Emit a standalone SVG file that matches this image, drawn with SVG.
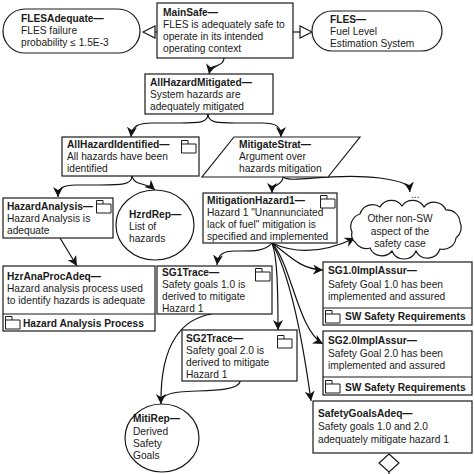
<svg xmlns="http://www.w3.org/2000/svg" width="474" height="474" viewBox="0 0 474 474">
<style>
.box{fill:#fff;stroke:#1a1a1a;stroke-width:1.2}
.ln{fill:none;stroke:#1a1a1a;stroke-width:1.2}
.t{font-family:"Liberation Sans",Arial,Helvetica,sans-serif;font-size:10.2px;fill:#1a1a1a}
.b{font-weight:bold}
.c{fill:none;stroke:#111;stroke-width:1.2;marker-end:url(#ah)}
.fold{fill:#fff;stroke:#1a1a1a;stroke-width:1}
</style>
<defs>
<marker id="ah" markerUnits="userSpaceOnUse" markerWidth="10" markerHeight="10" viewBox="0 0 10 10" refX="10" refY="5" orient="auto">
<path d="M0,0 L10,5 L0,10 L3,5 z" fill="#111"/>
</marker>
<g id="folder"><path class="fold" d="M0.5,4 V0.5 H7 V4 M0.5,4 H15 V13 H0.5 Z"/></g>
</defs>

<g id="connectors">
<line class="ln" x1="157" y1="32" x2="155" y2="32"/>
<polygon class="box" points="143,32 155,26 155,38"/>
<line class="ln" x1="293" y1="32" x2="300" y2="32"/>
<polygon class="box" points="312,32 300,26 300,38"/>
<path class="c" d="M224,58 C224,67 211,64 209,74"/>
<path class="c" d="M208,114 C208,123 198,123 180,123 L152,123 C138,123 132,126 131,137"/>
<path class="c" d="M208,114 C208,123 218,123 236,123 L262,123 C276,123 281,126 281,137"/>
<path class="c" d="M132,176 C132,185 120,185 100,185 L76,185 C63,185 58,188 58,197"/>
<path class="c" d="M132,176 C134,186 146,182 155,190"/>
<path class="c" d="M60,238 L77,266"/>
<path class="c" d="M283,177 C283,186 272,183 272,193"/>
<path class="c" d="M283,177 C292,184 330,172 380,178 C400,181 409,183 410,192"/>
<path class="c" d="M272,243 C265,252 250,251 235,251 C222,251 218,255 217,265"/>
<path class="c" d="M272,243 C300,256 330,250 355,238"/>
<path class="c" d="M272,243 C290,256 300,269 323,270"/>
<path class="c" d="M272,243 C277,256 278,285 278,330"/>
<path class="c" d="M272,243 C292,266 298,330 323,344"/>
<path class="c" d="M272,243 C290,275 302,335 311,401"/>
<path class="c" d="M212,314 C185,318 160,340 161,404"/>
<path class="ln" d="M240,381 C240,392 200,390 180,392 C168,393 162,396 161,402"/>
</g>

<g id="FLESAdequate">
<rect class="box" x="3" y="9" width="137" height="44" rx="22"/>
<text class="t b" x="21" y="22">FLESAdequate—</text>
<text class="t" x="21" y="34">FLES failure</text>
<text class="t" x="21" y="46">probability ≤ 1.5E-3</text>
</g>

<g id="MainSafe">
<rect class="box" x="157" y="3" width="136" height="55"/>
<text class="t b" x="163" y="16">MainSafe—</text>
<text class="t" x="163" y="28">FLES is adequately safe to</text>
<text class="t" x="163" y="40">operate in its intended</text>
<text class="t" x="163" y="52">operating context</text>
</g>

<g id="FLES">
<rect class="box" x="312" y="11" width="130" height="40" rx="20"/>
<text class="t b" x="330" y="23">FLES—</text>
<text class="t" x="330" y="35">Fuel Level</text>
<text class="t" x="330" y="47">Estimation System</text>
</g>

<g id="AllHazardMitigated">
<rect class="box" x="145" y="74" width="128" height="40"/>
<text class="t b" x="150" y="86">AllHazardMitigated—</text>
<text class="t" x="150" y="98">System hazards are</text>
<text class="t" x="150" y="110">adequately mitigated</text>
</g>

<g id="AllHazardIdentified">
<rect class="box" x="62" y="137" width="137" height="39"/>
<use href="#folder" x="181" y="140"/>
<text class="t b" x="67" y="148">AllHazardIdentified—</text>
<text class="t" x="67" y="160">All hazards have been</text>
<text class="t" x="67" y="172">identified</text>
</g>

<g id="MitigateStrat">
<polygon class="box" points="234,137 360,137 328,177 202,177"/>
<text class="t b" x="239" y="148">MitigateStrat—</text>
<text class="t" x="239" y="160">Argument over</text>
<text class="t" x="239" y="172">hazards mitigation</text>
</g>

<g id="HazardAnalysis">
<rect class="box" x="3" y="198" width="110" height="40"/>
<use href="#folder" x="96" y="200"/>
<text class="t b" x="7" y="210">HazardAnalysis—</text>
<text class="t" x="7" y="222">Hazard Analysis is</text>
<text class="t" x="7" y="234">adequate</text>
</g>

<g id="HzrdRep">
<ellipse class="box" cx="155" cy="225" rx="39" ry="35"/>
<text class="t b" x="129" y="218">HzrdRep—</text>
<text class="t" x="129" y="230">List of</text>
<text class="t" x="129" y="242">hazards</text>
</g>

<g id="MitigationHazard1">
<rect class="box" x="203" y="193" width="134" height="50"/>
<use href="#folder" x="320" y="195"/>
<text class="t b" x="207" y="204">MitigationHazard1—</text>
<text class="t" x="207" y="216">Hazard 1 "Unannunciated</text>
<text class="t" x="207" y="228">lack of fuel" mitigation is</text>
<text class="t" x="207" y="240">specified and implemented</text>
</g>

<g id="more">
<text class="t" x="411" y="198">...</text>
</g>

<g id="OtherNonSW">
<path class="box" d="M352,232 A13,13 0 0 1 360,214 A13,13 0 0 1 380,207 A13,13 0 0 1 402,206 A13,13 0 0 1 424,207 A13,13 0 0 1 446,210 A13,13 0 0 1 460,222 A13,13 0 0 1 456,238 A13,13 0 0 1 440,249 A13,13 0 0 1 416,251 A13,13 0 0 1 392,251 A13,13 0 0 1 370,248 A13,13 0 0 1 355,242 A10,10 0 0 1 352,232 Z"/>
<text class="t" x="400" y="222" text-anchor="middle">Other non-SW</text>
<text class="t" x="400" y="235" text-anchor="middle">aspect of the</text>
<text class="t" x="400" y="247" text-anchor="middle">safety case</text>
</g>

<g id="HzrAnaProcAdeq">
<rect class="box" x="3" y="266" width="152" height="65"/>
<line class="ln" x1="3" y1="314" x2="155" y2="314"/>
<text class="t b" x="7" y="280">HzrAnaProcAdeq—</text>
<text class="t" x="7" y="292">Hazard analysis process used</text>
<text class="t" x="7" y="304">to identify hazards is adequate</text>
<use href="#folder" x="5" y="316"/>
<text class="t b" x="23" y="327">Hazard Analysis Process</text>
</g>

<g id="SG1Trace">
<rect class="box" x="157" y="266" width="115" height="48"/>
<use href="#folder" x="255" y="268"/>
<text class="t b" x="162" y="276">SG1Trace—</text>
<text class="t" x="162" y="288">Safety goals 1.0 is</text>
<text class="t" x="162" y="300">derived to mitigate</text>
<text class="t" x="162" y="312">Hazard 1</text>
</g>

<g id="SG1.0ImplAssur">
<rect class="box" x="323" y="262" width="149" height="63"/>
<line class="ln" x1="323" y1="308" x2="472" y2="308"/>
<text class="t b" x="328" y="274">SG1.0ImplAssur—</text>
<text class="t" x="328" y="288">Safety Goal 1.0 has been</text>
<text class="t" x="328" y="300">implemented and assured</text>
<use href="#folder" x="325" y="310"/>
<text class="t b" x="345" y="320">SW Safety Requirements</text>
</g>

<g id="SG2Trace">
<rect class="box" x="182" y="330" width="115" height="51"/>
<use href="#folder" x="277" y="335"/>
<text class="t b" x="186" y="342">SG2Trace—</text>
<text class="t" x="186" y="354">Safety goal 2.0 is</text>
<text class="t" x="186" y="366">derived to mitigate</text>
<text class="t" x="186" y="378">Hazard 1</text>
</g>

<g id="SG2.0ImplAssur">
<rect class="box" x="323" y="331" width="149" height="64"/>
<line class="ln" x1="323" y1="377" x2="472" y2="377"/>
<text class="t b" x="328" y="344">SG2.0ImplAssur—</text>
<text class="t" x="328" y="357">Safety Goal 2.0 has been</text>
<text class="t" x="328" y="369">implemented and assured</text>
<use href="#folder" x="325" y="380"/>
<text class="t b" x="345" y="391">SW Safety Requirements</text>
</g>

<g id="SafetyGoalsAdeq">
<rect class="box" x="313" y="401" width="159" height="52"/>
<text class="t b" x="318" y="417">SafetyGoalsAdeq—</text>
<text class="t" x="318" y="430">Safety goals 1.0 and 2.0</text>
<text class="t" x="318" y="443">adequately mitigate hazard 1</text>
<polygon class="box" points="389,454 399,463 389,472 379,463"/>
<line class="ln" x1="389" y1="472" x2="389" y2="474"/>
</g>

<g id="MitiRep">
<ellipse class="box" cx="162" cy="438" rx="37" ry="34"/>
<text class="t b" x="133" y="422">MitiRep—</text>
<text class="t" x="133" y="435">Derived</text>
<text class="t" x="133" y="447">Safety</text>
<text class="t" x="133" y="459">Goals</text>
</g>
</svg>
